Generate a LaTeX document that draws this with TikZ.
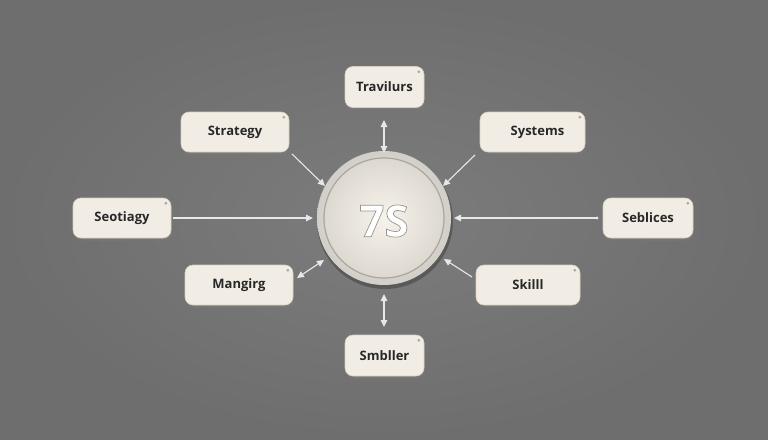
\documentclass[tikz,border=0pt]{standalone}
\usepackage{fontspec}
\setmainfont{Open Sans}
\usetikzlibrary{arrows.meta,shadows}
\definecolor{bgin}{RGB}{124,124,124}
\definecolor{bgout}{RGB}{110,110,110}
\definecolor{boxfill}{RGB}{242,237,228}
\definecolor{boxedge}{RGB}{214,206,192}
\definecolor{txt}{RGB}{40,40,40}
\definecolor{arr}{RGB}{232,232,232}
\tikzset{
  box/.style={draw=boxedge, line width=0.6pt, fill=boxfill, rounded corners=8pt,
    minimum height=40pt, text=txt, font=\fontsize{13}{15}\selectfont\bfseries,
    drop shadow={opacity=0.35, shadow xshift=1pt, shadow yshift=-2.5pt}},
  conn/.style={draw=arr, line width=1.1pt},
  tip/.style={-{Triangle[length=7pt,width=6.5pt]}},
  bothtip/.style={{Triangle[length=7pt,width=6.5pt]}-{Triangle[length=7pt,width=6.5pt]}},
  cornerdot/.style={fill=gray!70}
}
\begin{document}
\begin{tikzpicture}[x=1pt,y=-1pt]
\useasboundingbox (0,0) rectangle (768,439);
\shade[inner color=bgin, outer color=bgout] (0,0) rectangle (768,439);

% central circle
\fill[black, opacity=0.25] (385,221) circle (68);
\shade[inner color={rgb,255:red,236;green,233;blue,227}, outer color={rgb,255:red,210;green,206;blue,200}] (384,218) circle (67);
\draw[line width=1.2pt, color={rgb,255:red,170;green,166;blue,160}] (384,218) circle (60);
\shade[inner color={rgb,255:red,246;green,243;blue,236}, outer color={rgb,255:red,222;green,217;blue,208}] (384,218) circle (59);
\node[circle, minimum size=134pt, inner sep=0pt, text=white, font=\fontsize{44}{50}\selectfont\bfseries]
  (c) at (384,221) {\special{pdf:literal direct 2 Tr 0.7 w 0.6 0.59 0.57 RG}7S\special{pdf:literal direct 0 Tr}};

% boxes
\node[box, minimum width=79pt, minimum height=41pt] (trav) at (384.5,87) {Travilurs};
\node[box, minimum width=108pt] (strat) at (235,132) {Strategy};
\node[box, minimum width=105pt] (sys) at (532.5,132) {\hspace*{10pt}Systems};
\node[box, minimum width=98pt] (seot) at (122,218) {Seotiagy};
\node[box, minimum width=90pt] (sebl) at (648,218) {Seblices};
\node[box, minimum width=108pt] (mang) at (239,285) {Mangirg};
\node[box, minimum width=104pt] (skil) at (528,285) {Skilll};
\node[box, minimum width=79pt, minimum height=41pt] (smbl) at (384.5,355.5) {Smbller};

% corner dots
\foreach \n in {trav,strat,sys,seot,sebl,mang,skil,smbl}{
  \fill[cornerdot] (\n.north east) ++(-5.5,5.5) circle (1.5);
}

% connector end points
\coordinate (travA) at (384,120);
\coordinate (travB) at (384,153);
\coordinate (stratA) at (292,154);
\coordinate (stratB) at (325,186);
\coordinate (sysA) at (475,155);
\coordinate (sysB) at (443,186);
\coordinate (seotA) at (173,218);
\coordinate (seotB) at (313,218);
\coordinate (seblA) at (597,218);
\coordinate (seblB) at (454,218);
\coordinate (mangA) at (297,278);
\coordinate (mangB) at (324,260);
\coordinate (skilA) at (472,277);
\coordinate (skilB) at (444,259);
\coordinate (smblA) at (384,294);
\coordinate (smblB) at (384,327);

\draw[conn, bothtip] (travA) -- (travB);
\draw[conn, tip] (stratA) -- (stratB);
\draw[conn, tip] (sysA) -- (sysB);
\draw[conn, tip] (seotA) -- (seotB);
\draw[conn, tip] (seblA) -- (seblB);
\fill[arr] (seblA) circle (1.6);
\draw[conn, bothtip] (mangA) -- (mangB);
\draw[conn, tip] (skilA) -- (skilB);
\draw[conn, bothtip] (smblA) -- (smblB);
\end{tikzpicture}
\end{document}
